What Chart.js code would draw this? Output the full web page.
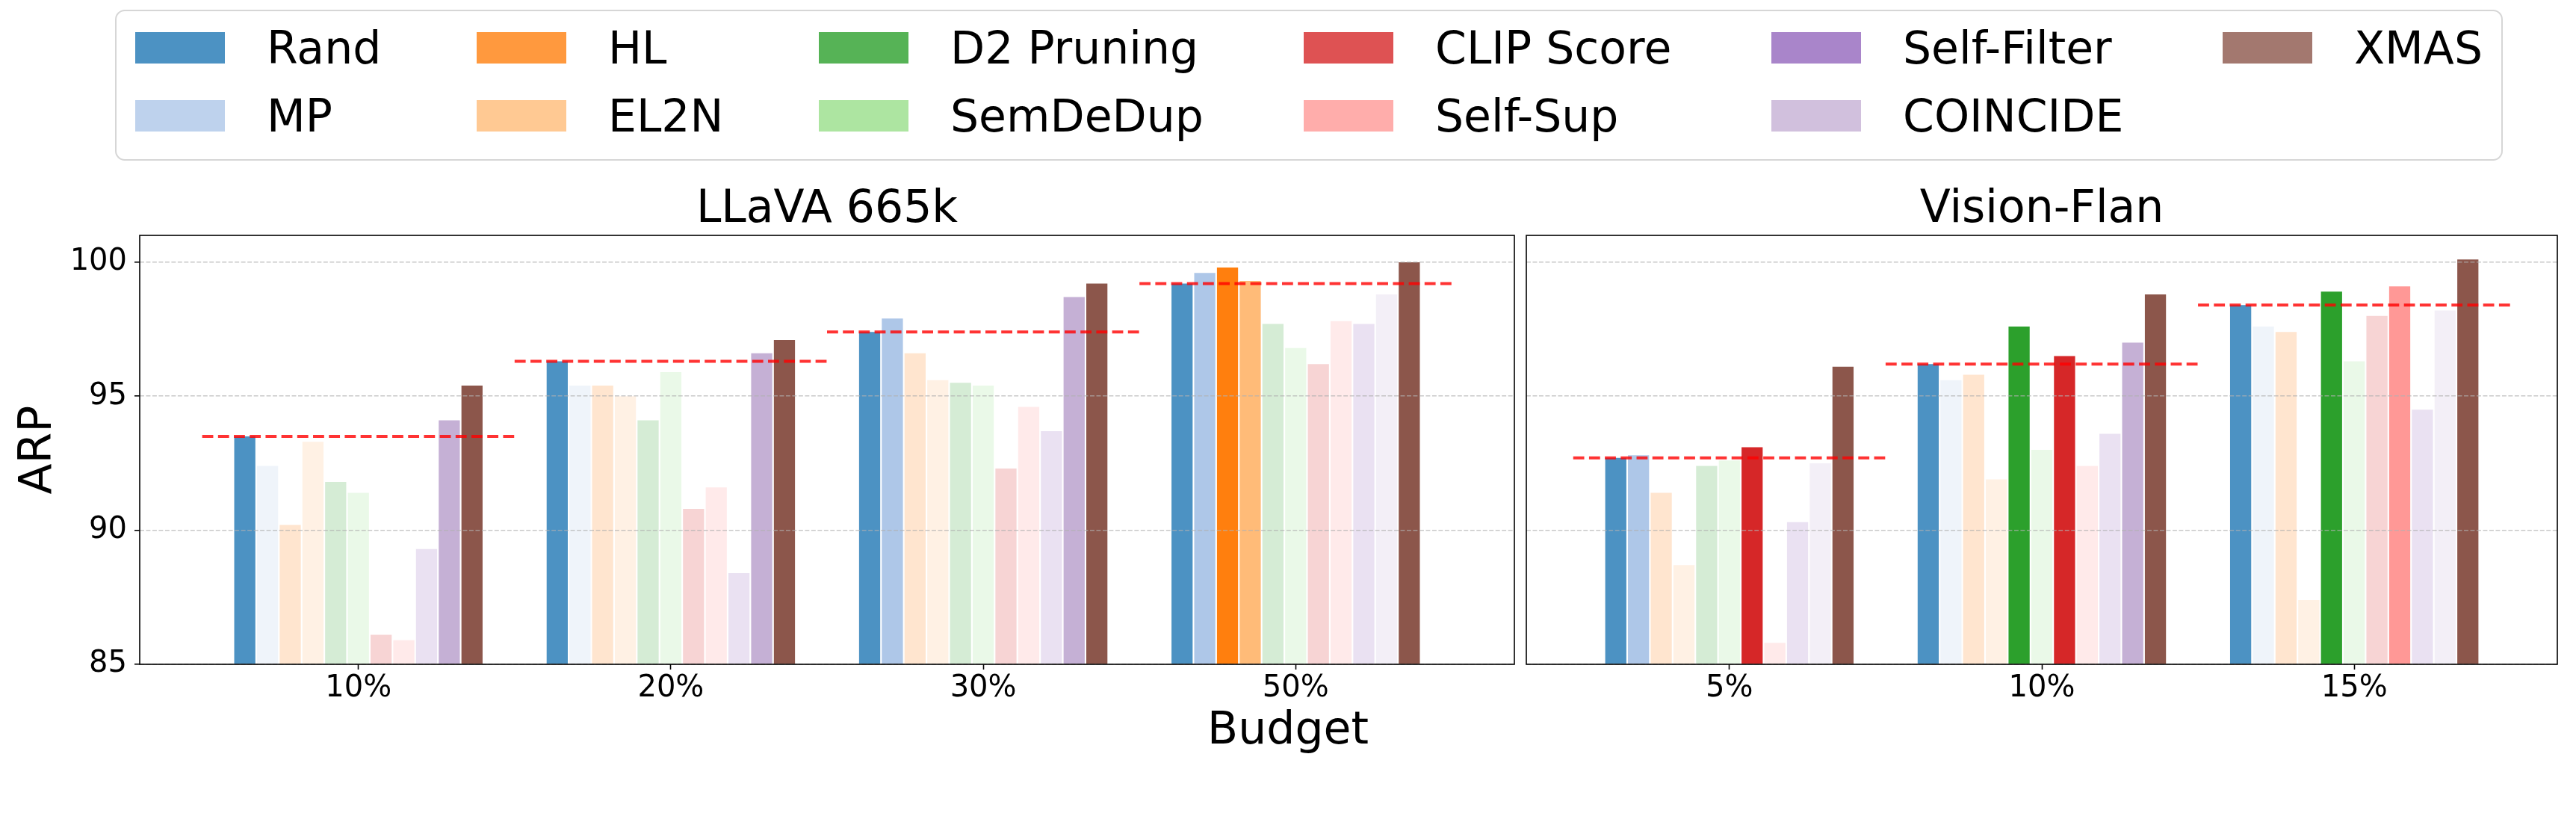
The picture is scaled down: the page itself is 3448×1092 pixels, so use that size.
<!DOCTYPE html>
<html>
<head>
<meta charset="utf-8">
<script src="https://cdn.jsdelivr.net/npm/chart.js@4.4.1/dist/chart.umd.min.js"></script>
<style>
html, body { margin: 0; padding: 0; background: #ffffff; width: 3448px; height: 1092px; overflow: hidden; }
canvas { position: absolute; left: 0; top: 0; }
</style>
</head>
<body>
<canvas id="left" width="3448" height="1092"></canvas>
<canvas id="right" width="3448" height="1092"></canvas>
<script>
// ---------------- data ----------------
const methods = ['Rand', 'MP', 'HL', 'EL2N', 'D2 Pruning', 'SemDeDup', 'CLIP Score', 'Self-Sup', 'Self-Filter', 'COINCIDE', 'XMAS'];
const llavaBudgets = ['10%', '20%', '30%', '50%'];
const visionFlanBudgets = ['5%', '10%', '15%'];
const yTickValues = [85, 90, 95, 100];
const yMin = 85;
const yMax = 101;

// LLaVA 665k (10%, 20%, 30%, 50%)
const llavaRand       = [93.5, 96.3, 97.4, 99.2];
const llavaMP         = [92.4, 95.4, 97.9, 99.6];
const llavaHL         = [90.2, 95.4, 96.6, 99.8];
const llavaEL2N       = [93.3, 95.0, 95.6, 99.3];
const llavaD2         = [91.8, 94.1, 95.5, 97.7];
const llavaSemDeDup   = [91.4, 95.9, 95.4, 96.8];
const llavaCLIP       = [86.1, 90.8, 92.3, 96.2];
const llavaSelfSup    = [85.9, 91.6, 94.6, 97.8];
const llavaSelfFilter = [89.3, 88.4, 93.7, 97.7];
const llavaCOINCIDE   = [94.1, 96.6, 98.7, 98.8];
const llavaXMAS       = [95.4, 97.1, 99.2, 100.0];

// Vision-Flan (5%, 10%, 15%)
const vfRand       = [92.7, 96.2, 98.4];
const vfMP         = [92.8, 95.6, 97.6];
const vfHL         = [91.4, 95.8, 97.4];
const vfEL2N       = [88.7, 91.9, 87.4];
const vfD2         = [92.4, 97.6, 98.9];
const vfSemDeDup   = [92.6, 93.0, 96.3];
const vfCLIP       = [93.1, 96.5, 98.0];
const vfSelfSup    = [85.8, 92.4, 99.1];
const vfSelfFilter = [90.3, 93.6, 94.5];
const vfCOINCIDE   = [92.5, 97.0, 98.2];
const vfXMAS       = [96.1, 98.8, 100.1];

const llavaSeries = [llavaRand, llavaMP, llavaHL, llavaEL2N, llavaD2, llavaSemDeDup, llavaCLIP, llavaSelfSup, llavaSelfFilter, llavaCOINCIDE, llavaXMAS];
const vfSeries = [vfRand, vfMP, vfHL, vfEL2N, vfD2, vfSemDeDup, vfCLIP, vfSelfSup, vfSelfFilter, vfCOINCIDE, vfXMAS];

// ---------------- style ----------------
const colors = ['#1f77b4', '#aec7e8', '#ff7f0e', '#ffbb78', '#2ca02c', '#98df8a', '#d62728', '#ff9896', '#9467bd', '#c5b0d5', '#8c564b'];
const FONT = '"DejaVu Sans", "Liberation Sans", sans-serif';
Chart.defaults.font.family = FONT;
Chart.defaults.color = '#000000';

function rgba(hex, a) {
  const n = parseInt(hex.slice(1), 16);
  return 'rgba(' + ((n >> 16) & 255) + ',' + ((n >> 8) & 255) + ',' + (n & 255) + ',' + a + ')';
}
function alphaFor(k, v, r) {
  if (methods[k] === 'Rand') return 0.8;
  if (methods[k] === 'XMAS') return 1;
  return v >= r ? 1 : 0.2;
}

const framePlugin = {
  id: 'frame',
  afterDraw(chart) {
    const { ctx, chartArea: a } = chart;
    ctx.save();
    ctx.strokeStyle = '#000000';
    ctx.lineWidth = 1.6;
    ctx.strokeRect(a.left, a.top, a.right - a.left, a.bottom - a.top);
    ctx.restore();
  }
};

const legendCols = [181, 638, 1096, 1745, 2371, 2975];
const legendRows = [43, 134];
const figLegendPlugin = {
  id: 'figLegend',
  afterDraw(chart) {
    const ctx = chart.ctx;
    ctx.save();
    // frame
    const x = 155, y = 14, w = 3194, h = 200, r = 12;
    ctx.beginPath();
    ctx.moveTo(x + r, y);
    ctx.arcTo(x + w, y, x + w, y + h, r);
    ctx.arcTo(x + w, y + h, x, y + h, r);
    ctx.arcTo(x, y + h, x, y, r);
    ctx.arcTo(x, y, x + w, y, r);
    ctx.closePath();
    ctx.fillStyle = 'rgba(255,255,255,0.8)';
    ctx.fill();
    ctx.strokeStyle = 'rgba(204,204,204,0.8)';
    ctx.lineWidth = 2;
    ctx.stroke();
    // entries (column-major, 2 rows)
    ctx.font = '60px ' + FONT;
    ctx.textAlign = 'left';
    ctx.textBaseline = 'alphabetic';
    methods.forEach((m, k) => {
      const px = legendCols[Math.floor(k / 2)];
      const py = legendRows[k % 2];
      ctx.fillStyle = rgba(colors[k], 0.8);
      ctx.fillRect(px, py, 120, 42);
      ctx.fillStyle = '#000000';
      ctx.fillText(m, px + 176, py + 42);
    });
    // shared x label
    ctx.textAlign = 'center';
    ctx.fillText('Budget', 1724, 995);
    ctx.restore();
  }
};

function makeChart(canvasId, labels, series, title, padding, showY, extraPlugins) {
  const n = labels.length;
  const rand = series[0];
  const datasets = series.map((vals, k) => ({
    type: 'bar',
    label: methods[k],
    data: vals.map((v, i) => ({ x: i, y: v })),
    backgroundColor: vals.map((v, i) => rgba(colors[k], alphaFor(k, v, rand[i]))),
    borderWidth: 0,
    base: yMin,
    categoryPercentage: 0.8,
    barPercentage: 0.93,
    order: 2
  }));
  const baselinePts = [];
  rand.forEach((r, i) => {
    baselinePts.push({ x: i - 0.5, y: r }, { x: i + 0.5, y: r }, { x: i + 0.5, y: null });
  });
  datasets.push({
    type: 'line',
    label: 'Rand baseline',
    data: baselinePts,
    borderColor: 'rgba(255,0,0,0.8)',
    borderWidth: 4,
    borderDash: [14.8, 6.4],
    borderCapStyle: 'butt',
    pointRadius: 0,
    fill: false,
    spanGaps: false,
    tension: 0,
    order: 1
  });

  return new Chart(document.getElementById(canvasId), {
    type: 'bar',
    data: { datasets },
    plugins: [framePlugin].concat(extraPlugins),
    options: {
      responsive: false,
      animation: false,
      devicePixelRatio: 1,
      events: [],
      layout: { padding },
      plugins: {
        legend: { display: false },
        tooltip: { enabled: false },
        title: {
          display: true,
          text: title,
          fullSize: false,
          color: '#000000',
          font: { family: FONT, size: 60, weight: 'normal', lineHeight: 1.1 },
          padding: { top: 248, bottom: 1 }
        }
      },
      scales: {
        x: {
          type: 'linear',
          offset: false,
          min: -0.5 - 0.05 * n,
          max: n - 0.5 + 0.05 * n,
          afterBuildTicks: (axis) => { axis.ticks = labels.map((_, i) => ({ value: i })); },
          afterFit: (axis) => { axis.height = 203; },
          ticks: {
            callback: (v, i) => labels[i],
            autoSkip: false,
            maxRotation: 0,
            minRotation: 0,
            padding: 6,
            color: '#000000',
            font: { family: FONT, size: 40, lineHeight: 1 }
          },
          grid: {
            display: true,
            offset: false,
            drawOnChartArea: false,
            drawTicks: true,
            tickLength: 7,
            tickColor: '#000000',
            tickWidth: 1.6,
            tickBorderDash: []
          },
          border: { display: false }
        },
        y: {
          type: 'linear',
          min: yMin,
          max: yMax,
          beginAtZero: false,
          afterBuildTicks: (axis) => { axis.ticks = yTickValues.map(v => ({ value: v })); },
          afterFit: (axis) => { axis.width = showY ? 187 : 0; },
          ticks: {
            display: showY,
            padding: 10,
            color: '#000000',
            font: { family: FONT, size: 40, lineHeight: 1 },
            callback: (v) => String(v)
          },
          grid: {
            display: true,
            color: 'rgba(176,176,176,0.7)',
            lineWidth: 1.6,
            drawTicks: showY,
            tickLength: 7,
            tickColor: '#000000',
            tickWidth: 1.6,
            tickBorderDash: [],
            z: 1
          },
          border: { display: false, dash: [5.92, 2.56] },
          title: {
            display: showY,
            text: 'ARP',
            color: '#000000',
            font: { family: FONT, size: 60, lineHeight: 1.2 },
            padding: { top: 16, bottom: 0 }
          }
        }
      }
    }
  });
}

makeChart('left', llavaBudgets, llavaSeries, 'LLaVA 665k', { left: 0, right: 1421, top: 0, bottom: 0 }, true, [figLegendPlugin]);
makeChart('right', visionFlanBudgets, vfSeries, 'Vision-Flan', { left: 2043, right: 25, top: 0, bottom: 0 }, false, []);
</script>
</body>
</html>
